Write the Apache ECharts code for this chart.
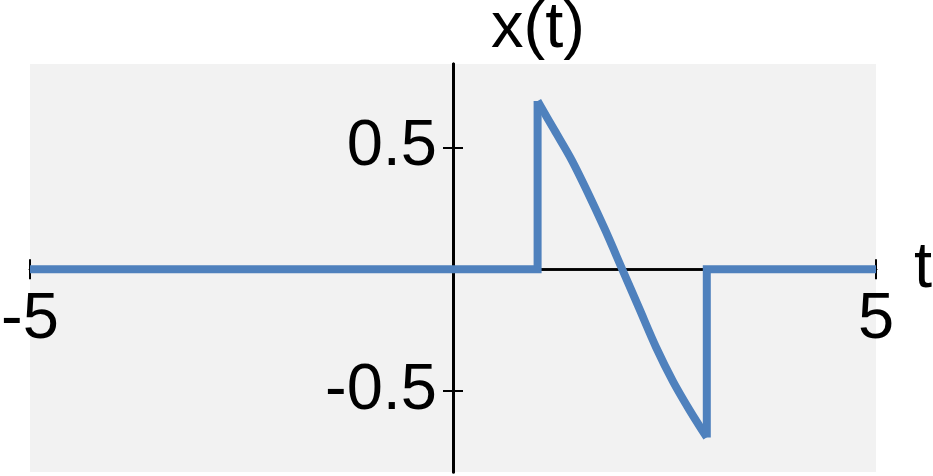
<!DOCTYPE html>
<html>
<head>
<meta charset="utf-8">
<script src="https://cdn.jsdelivr.net/npm/echarts@6/dist/echarts.min.js"></script>
<style>
html,body{margin:0;padding:0;background:#fff;}
#chart{width:933px;height:476px;}
</style>
</head>
<body>
<div id="chart"></div>
<script>
// Signal pieces
const leftStepT = [-5, 1, 1];
const leftStepX = [0, 0, 0.69];
const curveT = [1.0, 1.2, 1.4, 1.6, 1.8, 2.0, 2.2, 2.4, 2.6, 2.8, 3.0];
const curveX = [0.69, 0.57, 0.45, 0.31, 0.16, 0.0, -0.16, -0.32, -0.46, -0.58, -0.69];
const rightStepT = [3, 3, 5];
const rightStepX = [-0.69, 0, 0];
const xTickValues = [-5, 5];
const yTickValues = [-0.5, 0.5];
const xLabels = ['-5', '5'];
const yLabels = ['-0.5', '0.5'];
const xName = 't';
const yName = 'x(t)';

const FONT = "'Liberation Sans', Arial, sans-serif";
const pairs = (ts, xs) => ts.map((t, i) => [t, xs[i]]);

const GRID = { left: 30, right: 57, top: 64, bottom: 4 };
const W = 933, H = 476;
const X_MIN = -5, X_MAX = 5, Y_MIN = -0.832, Y_MAX = 0.842;
const gridW = W - GRID.left - GRID.right;
const gridH = H - GRID.top - GRID.bottom;
// shift axes from the grid edges to the zero lines
const xAxisOffset = -gridH * (0 - Y_MIN) / (Y_MAX - Y_MIN);
const yAxisOffset = -gridW * (0 - X_MIN) / (X_MAX - X_MIN);

const chart = echarts.init(document.getElementById('chart'));

const baseX = {
  type: 'value', min: X_MIN, max: X_MAX, gridIndex: 0, position: 'bottom', offset: xAxisOffset,
  splitLine: { show: false },
  axisLine: { show: true, onZero: false, lineStyle: { color: '#000', width: 2.5 } }
};
const baseY = {
  type: 'value', min: Y_MIN, max: Y_MAX, gridIndex: 0, position: 'left', offset: yAxisOffset,
  splitLine: { show: false },
  axisLine: { show: true, onZero: false, lineStyle: { color: '#000', width: 3 } }
};
const tickStyle = { color: '#000', width: 2 };
const lineStyle = { color: '#4f81bd', width: 8, join: 'miter', cap: 'butt' };

chart.setOption({
  animation: false,
  backgroundColor: '#ffffff',
  grid: Object.assign({ show: true, backgroundColor: '#f2f2f2', borderWidth: 0, containLabel: false, outerBoundsMode: 'none' }, GRID),
  xAxis: [
    Object.assign({}, baseX, {
      name: xName, nameLocation: 'end', nameGap: 38,
      nameTextStyle: { fontSize: 65, color: '#000', fontFamily: FONT, align: 'left', verticalAlign: 'middle' },
      axisTick: { show: true, inside: false, length: 10, customValues: xTickValues, lineStyle: tickStyle },
      axisLabel: { show: true, customValues: xTickValues, margin: 18, fontSize: 65, color: '#000', fontFamily: FONT,
        formatter: v => xLabels[xTickValues.indexOf(v)] }
    }),
    Object.assign({}, baseX, {
      axisTick: { show: true, inside: true, length: 10, customValues: xTickValues, lineStyle: tickStyle },
      axisLabel: { show: false }
    })
  ],
  yAxis: [
    Object.assign({}, baseY, {
      name: yName, nameLocation: 'end', nameGap: 2,
      nameTextStyle: { fontSize: 65, color: '#000', fontFamily: FONT, align: 'left', padding: [0, 0, 0, 38] },
      axisTick: { show: true, inside: false, length: 10, customValues: yTickValues, lineStyle: tickStyle },
      axisLabel: { show: true, customValues: yTickValues, margin: 16, fontSize: 65, color: '#000', fontFamily: FONT,
        formatter: v => yLabels[yTickValues.indexOf(v)] }
    }),
    Object.assign({}, baseY, {
      axisTick: { show: true, inside: true, length: 10, customValues: yTickValues, lineStyle: tickStyle },
      axisLabel: { show: false }
    })
  ],
  series: [
    { type: 'line', data: pairs(leftStepT, leftStepX), showSymbol: false, symbol: 'none', lineStyle: lineStyle, z: 3 },
    { type: 'line', data: pairs(curveT, curveX), showSymbol: false, symbol: 'none', smooth: 0.3, lineStyle: lineStyle, z: 3 },
    { type: 'line', data: pairs(rightStepT, rightStepX), showSymbol: false, symbol: 'none', lineStyle: lineStyle, z: 3 }
  ]
});
</script>
</body>
</html>
